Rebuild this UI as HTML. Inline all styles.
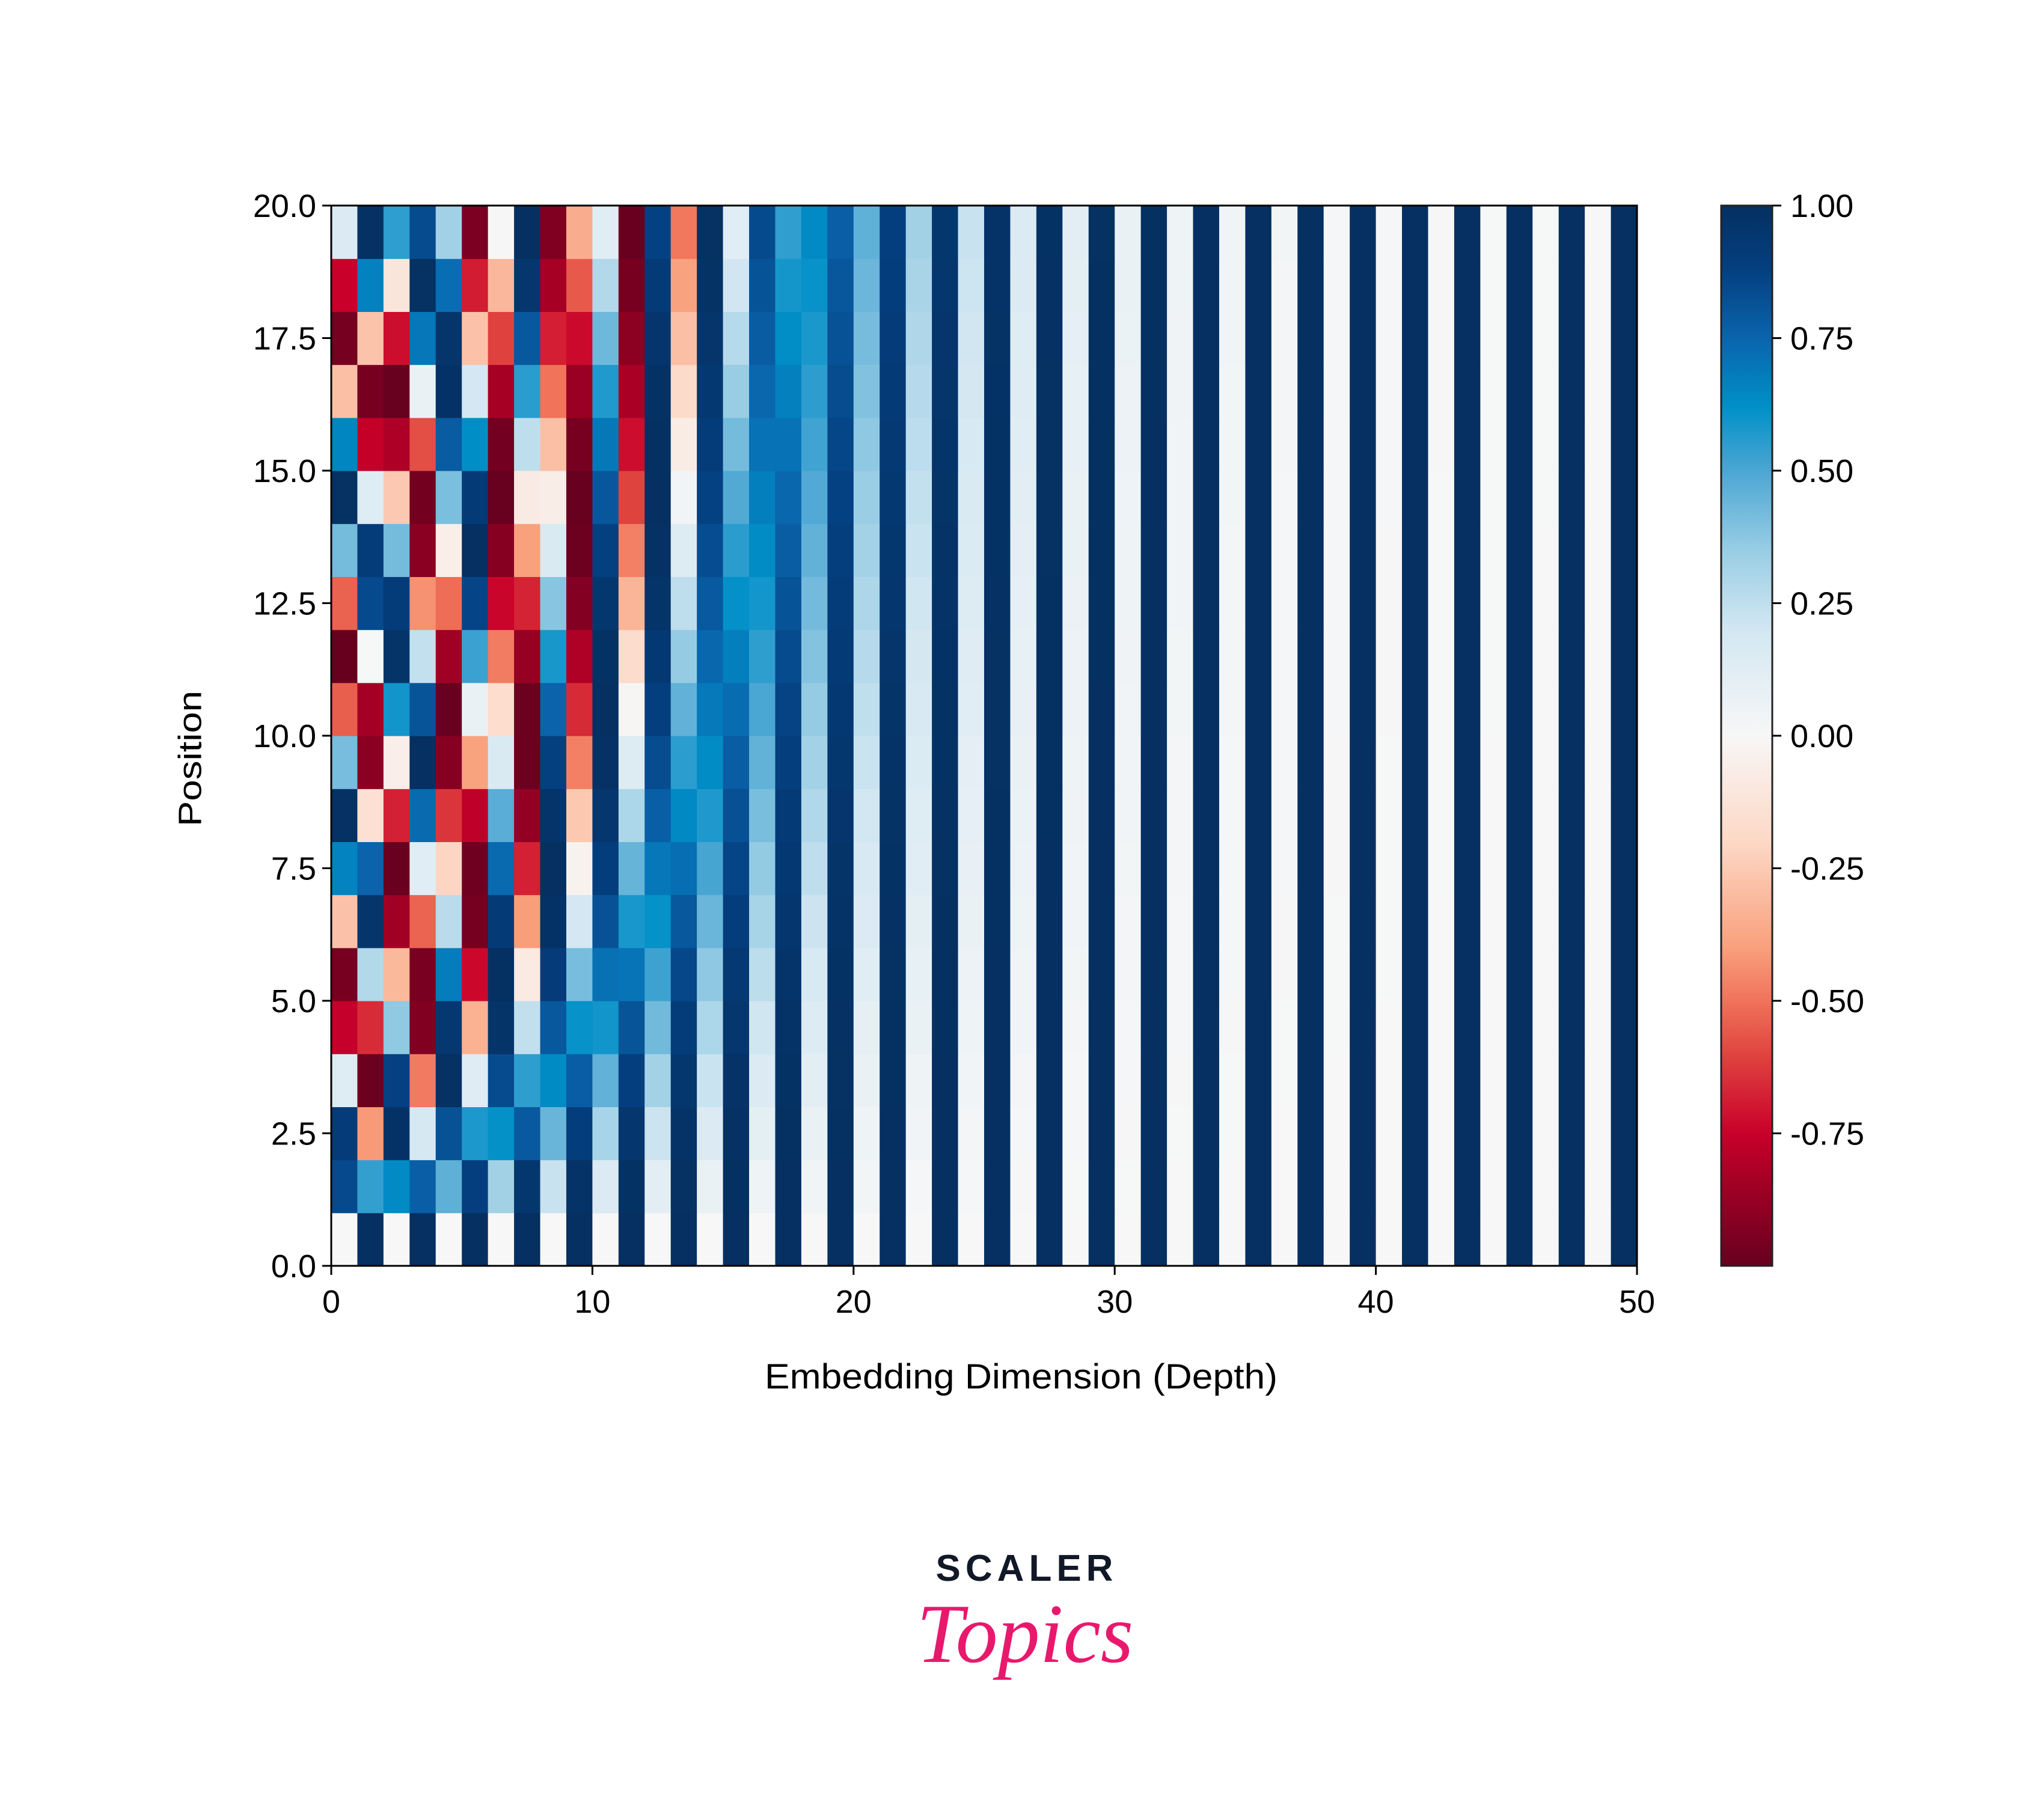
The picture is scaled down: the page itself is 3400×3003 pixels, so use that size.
<!DOCTYPE html>
<html><head><meta charset="utf-8"><style>
html,body{margin:0;padding:0;background:#fff;width:3400px;height:3003px;overflow:hidden}
text{font-family:"Liberation Sans","DejaVu Sans",sans-serif;fill:#000}
</style></head><body>
<svg id="s" width="3400" height="3003" xmlns="http://www.w3.org/2000/svg">
<defs><linearGradient id="cb" x1="0" y1="1" x2="0" y2="0" id2="x">
</linearGradient></defs>
<g id="hm"></g>
<rect x="551" y="342" width="2172" height="1764" fill="none" stroke="#000" stroke-width="3"/>
<rect x="2863" y="342" width="85" height="1764" fill="url(#cb)" stroke="#222" stroke-width="3"/>
<g id="ax"></g>
<text x="320" y="1262" font-size="54" text-anchor="middle" transform="rotate(-90 320 1262)" dominant-baseline="middle" textLength="226" lengthAdjust="spacingAndGlyphs">Position</text>
<text x="1272" y="2310" font-size="58" textLength="853" lengthAdjust="spacingAndGlyphs">Embedding Dimension (Depth)</text>
<text x="1708" y="2630" font-size="62" font-weight="bold" text-anchor="middle" style="fill:#111827;letter-spacing:8px">SCALER</text>
<text x="1705" y="2765" font-size="140" font-style="italic" text-anchor="middle" style="fill:#e8196d;font-family:'Liberation Serif',serif">Topics</text>
</svg>
<script>
var S=[[-1,"#67001f"],[-0.85,"#a00024"],[-0.75,"#c8002a"],[-0.6,"#e0453f"],[-0.5,"#f0735a"],[-0.4,"#f9a07c"],[-0.2,"#fdd8c6"],[0,"#f7f7f7"],[0.2,"#d3e7f2"],[0.35,"#98cde4"],[0.5,"#4ba6d3"],[0.62,"#0090c8"],[0.75,"#0a64ac"],[0.88,"#043f80"],[1,"#053061"]];
var g="";S.forEach(function(p){g+='<stop offset="'+((p[0]+1)/2)+'" stop-color="'+p[1]+'"/>'});
document.getElementById("cb").innerHTML=g;
function h(c){return [parseInt(c.substr(1,2),16),parseInt(c.substr(3,2),16),parseInt(c.substr(5,2),16)]}
function col(v){if(v<=-1)return S[0][1];if(v>=1)return S[S.length-1][1];
for(var i=0;i<S.length-1;i++){if(v>=S[i][0]&&v<=S[i+1][0]){var f=(v-S[i][0])/(S[i+1][0]-S[i][0]);var a=h(S[i][1]),b=h(S[i+1][1]);
return "rgb("+[0,1,2].map(function(k){return Math.round(a[k]+(b[k]-a[k])*f)}).join(",")+")"}}}
var L=551,T=342,W=2172,H=1764,d=50,N=20,cw=W/d,ch=H/N,s="";
for(var p=0;p<N;p++)for(var i=0;i<d;i++){var ang=p/Math.pow(10000,2*Math.floor(i/2)/d);var v=i%2==0?Math.sin(ang):Math.cos(ang);
s+='<rect x="'+(L+i*cw).toFixed(2)+'" y="'+(T+H-(p+1)*ch).toFixed(2)+'" width="'+(cw+0.6).toFixed(2)+'" height="'+(ch+0.6).toFixed(2)+'" fill="'+col(v)+'"/>';}
document.getElementById("hm").innerHTML=s;
var a="";
for(var k=0;k<=8;k++){var v=k*2.5,y=T+H-v/20*H;a+='<line x1="'+(L-15)+'" x2="'+L+'" y1="'+y+'" y2="'+y+'" stroke="#000" stroke-width="3"/><text x="'+(L-25)+'" y="'+(y+19)+'" font-size="54" text-anchor="end">'+v.toFixed(1)+'</text>';}
for(var k=0;k<=5;k++){var x=L+k*10/50*W;a+='<line x1="'+x+'" x2="'+x+'" y1="'+(T+H)+'" y2="'+(T+H+15)+'" stroke="#000" stroke-width="3"/><text x="'+x+'" y="'+(T+H+78)+'" font-size="54" text-anchor="middle">'+(k*10)+'</text>';}
var vmin=-0.9999,vmax=1;
[1,0.75,0.5,0.25,0,-0.25,-0.5,-0.75].forEach(function(v){var y=T+H-(v-vmin)/(vmax-vmin)*H;a+='<line x1="2948" x2="2963" y1="'+y+'" y2="'+y+'" stroke="#000" stroke-width="3"/><text x="2978" y="'+(y+19)+'" font-size="54">'+v.toFixed(2)+'</text>';});
document.getElementById("ax").innerHTML=a;
</script>
</body></html>
